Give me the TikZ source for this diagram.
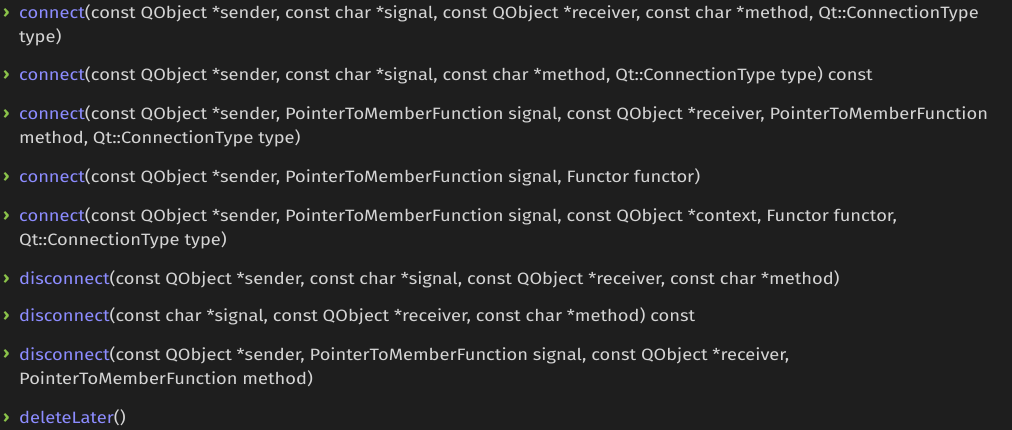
\documentclass[tikz,border=0pt]{standalone}
\usepackage{fontspec}
\setmainfont{Fira Sans}[FakeStretch=1.115]
\definecolor{bg}{HTML}{1E1E1E}
\definecolor{txt}{HTML}{D4D4D4}
\definecolor{lnk}{HTML}{8C8CFF}
\definecolor{chev}{HTML}{8BC34A}
\newcommand{\fn}[1]{\textcolor{lnk}{#1}}
\begin{document}
\begin{tikzpicture}[x=1pt,y=-1pt,
  ln/.style={anchor=base west,inner sep=0pt,text=txt,font=\fontsize{16.4}{22}\selectfont},
  cv/.style={anchor=base west,inner sep=0pt,text=chev,font=\bfseries\fontsize{16}{16}\selectfont}]
\fill[bg] (0,0) rectangle (1012,430);
\useasboundingbox (0,0) rectangle (1012,430);
\foreach \y/\n in {19/c1,81/c2,120/c3,183/c4,222/c5,285/c6,322/c7,360/c8,423/c9}
  \node[cv] (k\n) at (3,\y-1) {›};
\node[ln] (c1) at (19,19) {\fn{connect}(const QObject *sender, const char *signal, const QObject *receiver, const char *method, Qt::ConnectionType};
\node[ln] (c1b) at (19,43) {type)};
\node[ln] (c2) at (19,81) {\fn{connect}(const QObject *sender, const char *signal, const char *method, Qt::ConnectionType type) const};
\node[ln] (c3) at (19,120) {\fn{connect}(const QObject *sender, PointerToMemberFunction signal, const QObject *receiver, PointerToMemberFunction};
\node[ln] (c3b) at (19,144) {method, Qt::ConnectionType type)};
\node[ln] (c4) at (19,183) {\fn{connect}(const QObject *sender, PointerToMemberFunction signal, Functor functor)};
\node[ln] (c5) at (19,222) {\fn{connect}(const QObject *sender, PointerToMemberFunction signal, const QObject *context, Functor functor,};
\node[ln] (c5b) at (19,246) {Qt::ConnectionType type)};
\node[ln] (c6) at (19,285) {\fn{disconnect}(const QObject *sender, const char *signal, const QObject *receiver, const char *method)};
\node[ln] (c7) at (19,322) {\fn{disconnect}(const char *signal, const QObject *receiver, const char *method) const};
\node[ln] (c8) at (19,360) {\fn{disconnect}(const QObject *sender, PointerToMemberFunction signal, const QObject *receiver,};
\node[ln] (c8b) at (19,384) {PointerToMemberFunction method)};
\node[ln] (c9) at (19,423) {\fn{deleteLater}()};
\end{tikzpicture}
\end{document}
